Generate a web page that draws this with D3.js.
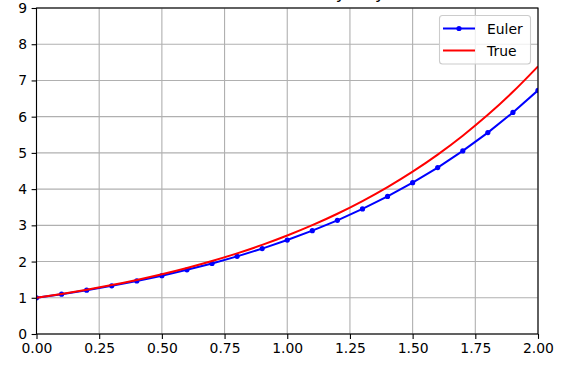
<!DOCTYPE html>
<html><head><meta charset="utf-8">
<script src="https://cdn.jsdelivr.net/npm/d3@7"></script>
<style>body{margin:0;background:#fff}svg{display:block}text{font-family:"DejaVu Sans",sans-serif}</style>
</head><body>
<svg id="c" width="563" height="369"></svg>
<script>
const xs = [0,0.1,0.2,0.3,0.4,0.5,0.6,0.7,0.8,0.9,1.0,1.1,1.2,1.3,1.4,1.5,1.6,1.7,1.8,1.9,2.0];
const eulerVals = [1,1.1,1.21,1.331,1.4641,1.6105,1.7716,1.9487,2.1436,2.3579,2.5937,2.8531,3.1384,3.4523,3.7975,4.1772,4.5950,5.0545,5.5599,6.1159,6.7275];
const trueVals = [1,1.1052,1.2214,1.3499,1.4918,1.6487,1.8221,2.0138,2.2255,2.4596,2.7183,3.0042,3.3201,3.6693,4.0552,4.4817,4.9530,5.4739,6.0496,6.6859,7.3891];
const xTicks = [0,0.25,0.5,0.75,1.0,1.25,1.5,1.75,2.0];
const yTicks = [0,1,2,3,4,5,6,7,8,9];
const seriesNames = ["Euler","True"];
const titleText = "Euler method for y' = y";

const svg = d3.select("#c");
const L=36.5, R=538, T=8, B=334;
const FS = 13.9;
const x = d3.scaleLinear().domain([0,2]).range([L,R]);
const y = d3.scaleLinear().domain([0,9]).range([B,T]);

// title (mostly clipped at top, as in the reference)
svg.append("text").attr("x",(L+R)/2).attr("y",-0.8).attr("text-anchor","middle")
  .attr("font-size",16.7).attr("fill","#000").text(titleText);

// grid
const g = svg.append("g");
g.selectAll(".gx").data(xTicks).join("line").attr("x1",d=>x(d)).attr("x2",d=>x(d))
  .attr("y1",T).attr("y2",B).attr("stroke","#b0b0b0").attr("stroke-width",1.1);
g.selectAll(".gy").data(yTicks).join("line").attr("y1",d=>y(d)).attr("y2",d=>y(d))
  .attr("x1",L).attr("x2",R).attr("stroke","#b0b0b0").attr("stroke-width",1.1);

svg.append("clipPath").attr("id","clp").append("rect")
  .attr("x",L).attr("y",T).attr("width",R-L).attr("height",B-T);
const plot = svg.append("g").attr("clip-path","url(#clp)");

const pts = (vals)=>xs.map((d,i)=>[d,vals[i]]);
const line = d3.line().x(d=>x(d[0])).y(d=>y(d[1]));
const lineSmooth = d3.line().x(d=>x(d[0])).y(d=>y(d[1])).curve(d3.curveMonotoneX);

plot.append("path").attr("d",line(pts(eulerVals))).attr("fill","none")
  .attr("stroke","#0000ff").attr("stroke-width",2);
plot.selectAll(".dot").data(pts(eulerVals)).join("circle")
  .attr("cx",d=>x(d[0])).attr("cy",d=>y(d[1])).attr("r",2.6).attr("fill","#0000ff");
plot.append("path").attr("d",lineSmooth(pts(trueVals))).attr("fill","none")
  .attr("stroke","#ff0000").attr("stroke-width",2);

// axes
const xa = svg.append("g").attr("transform",`translate(0,${B})`)
  .call(d3.axisBottom(x).tickValues(xTicks).tickFormat(d3.format(".2f")).tickSizeOuter(0).tickSize(4.9).tickPadding(4.6));
const ya = svg.append("g").attr("transform",`translate(${L},0)`)
  .call(d3.axisLeft(y).tickValues(yTicks).tickFormat(d3.format("d")).tickSizeOuter(0).tickSize(4.9).tickPadding(4.6));
[xa,ya].forEach(a=>{
  a.select(".domain").remove();
  a.selectAll("line").attr("stroke","#000").attr("stroke-width",1.1);
  a.selectAll("text").attr("font-size",FS).attr("fill","#000").attr("font-family","DejaVu Sans");
});
svg.append("rect").attr("x",L).attr("y",T).attr("width",R-L).attr("height",B-T)
  .attr("fill","none").attr("stroke","#000").attr("stroke-width",1.1);

// legend
const lg = svg.append("g");
lg.append("rect").attr("x",439.5).attr("y",15.5).attr("width",91).attr("height",48.5).attr("rx",3)
  .attr("fill","#fff").attr("fill-opacity",0.8).attr("stroke","#cccccc").attr("stroke-width",1.1);
const rows = [{n:seriesNames[0],c:"#0000ff",m:true,yy:28.5},{n:seriesNames[1],c:"#ff0000",m:false,yy:50.5}];
rows.forEach(r=>{
  lg.append("line").attr("x1",443).attr("x2",475).attr("y1",r.yy).attr("y2",r.yy)
    .attr("stroke",r.c).attr("stroke-width",2);
  if(r.m) lg.append("circle").attr("cx",459).attr("cy",r.yy).attr("r",2.6).attr("fill",r.c);
  lg.append("text").attr("x",487).attr("y",r.yy).attr("dy","0.36em").attr("font-size",FS)
    .attr("fill","#000").text(r.n);
});
</script>
</body></html>
